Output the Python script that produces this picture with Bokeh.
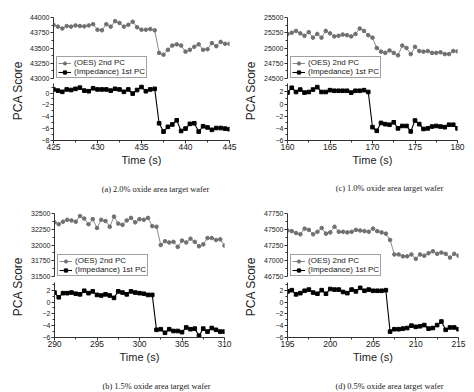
import math
from bokeh.plotting import figure
from bokeh.models import Range1d, FixedTicker, Label, Legend, LegendItem
from bokeh.layouts import column, row
from bokeh.embed import file_html
from bokeh.resources import INLINE

# ---------------- data ----------------
step = 0.5

start_a = 425.0
oes_a = [43880, 43850, 43820, 43860, 43850, 43870, 43860, 43855, 43870, 43890,
         43800, 43790, 43890, 43850, 43940, 43910, 43850, 43880, 43930, 43840,
         43800, 43800, 43810, 43790,
         43420, 43390, 43470, 43540, 43560, 43540, 43440, 43470, 43520, 43560,
         43470, 43480, 43580, 43530, 43600, 43570, 43570]
imp_a = [0.6, 0.4, 0.2, 0.6, 0.5, 0.7, 0.9, 0.4, 0.3, 0.8, 0.6, 0.6, 0.6, 0.4,
         0.7, 0.6, 0.2, 0.6, -0.1, 0.5, 1.0, 0.3, 0.6, 0.7,
         -5.1, -6.5, -5.7, -5.3, -4.6, -6.4, -6.0, -5.2, -5.1, -6.5, -5.6, -5.8,
         -6.2, -5.9, -5.9, -6.0, -6.1]

start_c = 160.0
oes_c = [25230, 25250, 25280, 25240, 25200, 25260, 25170, 25230, 25170, 25280,
         25240, 25190, 25200, 25220, 25210, 25190, 25230, 25320, 25280, 25210,
         25170,
         25000, 24940, 24920, 24960, 24920, 24880, 25040, 25000, 24900, 25020,
         24950, 24940, 24950, 24920, 24920, 24930, 24900, 24900, 24950, 24945]
imp_c = [1.9, 2.7, 2.0, 2.4, 1.9, 2.0, 2.4, 2.8, 2.0, 2.0, 2.3, 2.2, 2.2, 2.2,
         2.2, 1.9, 2.2, 2.2, 2.3, 2.0,
         -3.8, -4.4, -3.1, -3.3, -3.4, -3.0, -4.0, -3.6, -3.6, -4.5, -2.7, -3.3,
         -4.1, -4.0, -3.7, -3.6, -3.7, -3.8, -3.4, -3.4, -4.0]

start_b = 290.0
oes_b = [32360, 32330, 32370, 32400, 32390, 32370, 32460, 32420, 32330, 32410,
         32270, 32400, 32380, 32290, 32450, 32340, 32320, 32390, 32430, 32360,
         32410, 32400, 32430, 32300, 32290,
         32000, 32060, 32040, 32050, 31970, 32070, 32040, 32100, 32050, 31980,
         32010, 32110, 32110, 32080, 32090, 31990]
imp_b = [1.6, 0.8, 1.5, 1.5, 1.6, 1.4, 1.3, 1.9, 1.5, 1.8, 1.2, 1.1, 1.3, 1.1,
         0.7, 1.8, 1.6, 1.3, 1.8, 1.6, 1.5, 1.4, 1.2, 1.2,
         -4.7, -4.6, -5.2, -4.6, -4.9, -4.9, -5.1, -4.3, -4.6, -4.5, -5.7, -4.5,
         -5.0, -4.4, -4.7, -5.0, -5.0]

start_d = 195.0
oes_d = [47480, 47470, 47440, 47420, 47510, 47490, 47420, 47460, 47520, 47430,
         47450, 47540, 47460, 47460, 47450, 47460, 47490, 47480, 47470, 47460,
         47510, 47470, 47450, 47430, 47330,
         47100, 47100, 47070, 47070, 47100, 47030, 47100, 47080, 47120, 47150,
         47110, 47130, 47110, 47050, 47110, 47080]
imp_d = [1.8, 2.0, 1.3, 1.5, 1.9, 2.1, 1.6, 1.4, 2.0, 1.4, 2.2, 2.1, 2.1, 1.7,
         1.5, 2.1, 1.8, 2.4, 1.9, 2.1, 1.9, 1.9, 1.9, 2.0,
         -5.0, -4.6, -4.6, -4.5, -4.4, -4.0, -4.2, -4.1, -3.9, -4.5, -4.4, -3.9,
         -3.3, -4.7, -4.3, -4.3, -4.6]

x_ticks_a = [425, 430, 435, 440, 445]
x_ticks_c = [160, 165, 170, 175, 180]
x_ticks_b = [290, 295, 300, 305, 310]
x_ticks_d = [195, 200, 205, 210, 215]
up_ticks_a = [43000, 43250, 43500, 43750, 44000]
up_ticks_c = [24500, 24750, 25000, 25250, 25500]
up_ticks_b = [31500, 31750, 32000, 32250, 32500]
up_ticks_d = [46750, 47000, 47250, 47500, 47750]
lo_ticks_a = [-8, -6, -4, -2, 0]
lo_ticks_c = [-6, -4, -2, 0, 2]
lo_ticks_b = [-6, -4, -2, 0, 2]
lo_ticks_d = [-6, -4, -2, 0, 2]

labels = ["(OES) 2nd PC", "(Impedance) 1st PC"]
x_title = "Time (s)"
y_title = "PCA Score"
cap_a = "(a) 2.0% oxide area target wafer"
cap_b = "(b) 1.5% oxide area target wafer"
cap_c = "(c) 1.0% oxide area target wafer"
cap_d = "(d) 0.5% oxide area target wafer"

# ---------------- style ----------------
SANS = "Liberation Sans"
SERIF = "Liberation Serif"
AX = "#333333"
TXT = "#222222"
OES_LINE = "#8c8c8c"
OES_MARK = "#707070"
IMP = "#000000"


def mids(t):
    return [(a + b) / 2 for a, b in zip(t[:-1], t[1:])]


def style_axis(ax, size):
    ax.axis_line_color = AX
    ax.major_tick_line_color = AX
    ax.minor_tick_line_color = AX
    ax.major_tick_in = 0
    ax.major_tick_out = 3
    ax.minor_tick_in = 0
    ax.minor_tick_out = 2
    ax.major_label_text_font = SANS
    ax.major_label_text_font_size = size
    ax.major_label_text_color = TXT
    ax.major_label_standoff = 1


def blank(w, h):
    f = figure(width=w, height=h, x_range=Range1d(0, 1), y_range=Range1d(0, 1),
               output_backend="svg", toolbar_location=None, title=None,
               x_axis_location=None, y_axis_location=None,
               min_border_left=0, min_border_right=0,
               min_border_top=0, min_border_bottom=0)
    f.grid.visible = False
    f.outline_line_color = None
    return f


def make_panel(start, oes, imp, xt, upt, lot, lo_top_val, caption,
               W, bl, br, up_h, up_top, up_bot, lo_h, lo_top, lo_bot, strip_h,
               ylab_w, ylab_x, ylab_y, cap_x, cap_y):
    t = [start + step * i for i in range(len(oes))]
    xr = (xt[0], xt[-1])

    up = figure(width=W, height=up_h, x_range=Range1d(*xr),
                y_range=Range1d(upt[0], upt[-1]), output_backend="svg",
                toolbar_location=None, title=None,
                min_border_left=bl, min_border_right=br,
                min_border_top=up_top, min_border_bottom=up_bot)
    up.xaxis.visible = False
    up.grid.visible = False
    up.outline_line_color = None
    up.yaxis.ticker = FixedTicker(ticks=upt, minor_ticks=mids(upt))
    style_axis(up.yaxis[0], "7px")

    l1 = up.line(t, oes, line_color=OES_LINE, line_width=1)
    s1 = up.scatter(t, oes, marker="circle", size=3.6, fill_color=OES_MARK,
                    line_color=OES_MARK)
    l2 = up.line(t, imp, line_color=IMP, line_width=1.1)
    s2 = up.scatter(t, imp, marker="square", size=3.6, fill_color=IMP,
                    line_color=IMP)
    leg = Legend(items=[LegendItem(label=labels[0], renderers=[l1, s1]),
                        LegendItem(label=labels[1], renderers=[l2, s2])],
                 location=(3, 0))
    leg.margin = 0
    leg.padding = 1
    leg.spacing = 0
    leg.glyph_width = 13
    leg.glyph_height = 8
    leg.label_height = 8
    leg.label_standoff = 3
    leg.label_text_font = SANS
    leg.label_text_font_size = "8px"
    leg.label_text_color = TXT
    leg.border_line_color = "#444444"
    leg.border_line_width = 1
    leg.background_fill_alpha = 1
    up.add_layout(leg)

    lo = figure(width=W, height=lo_h, x_range=up.x_range,
                y_range=Range1d(lot[0], lo_top_val), output_backend="svg",
                toolbar_location=None, title=None,
                min_border_left=bl, min_border_right=br,
                min_border_top=lo_top, min_border_bottom=lo_bot)
    lo.grid.visible = False
    lo.outline_line_color = None
    lo.yaxis.ticker = FixedTicker(ticks=lot, minor_ticks=mids(lot) + [lot[-1] + 1])
    lo.xaxis.ticker = FixedTicker(ticks=xt, minor_ticks=mids(xt))
    style_axis(lo.yaxis[0], "7px")
    style_axis(lo.xaxis[0], "8.5px")
    lo.xaxis.major_label_standoff = 0
    lo.xaxis.axis_label = x_title
    lo.xaxis.axis_label_standoff = 1
    lo.xaxis.axis_label_text_font = SANS
    lo.xaxis.axis_label_text_font_style = "normal"
    lo.xaxis.axis_label_text_font_size = "11px"
    lo.xaxis.axis_label_text_color = TXT
    lo.line(t, imp, line_color=IMP, line_width=1.1)
    lo.scatter(t, imp, marker="square", size=3.6, fill_color=IMP, line_color=IMP)

    strip = blank(W, strip_h)
    strip.add_layout(Label(x=cap_x, y=cap_y, x_units="screen", y_units="screen",
                           text=caption, text_align="center",
                           text_baseline="middle", text_font=SERIF,
                           text_font_size="8.4px", text_color=TXT))

    total_h = up_h + lo_h + strip_h
    ylab = blank(ylab_w, total_h)
    ylab.add_layout(Label(x=ylab_x, y=ylab_y, x_units="screen", y_units="screen",
                          text=y_title, angle=math.pi / 2, text_align="center",
                          text_baseline="middle", text_font=SANS,
                          text_font_size="12px", text_color=TXT))
    return row(ylab, column(up, lo, strip))


# top row: upper 0->83, lower 83->168, strip 168->204
pa = make_panel(start_a, oes_a, imp_a, x_ticks_a, up_ticks_a, lo_ticks_a, 1.6,
                cap_a, 218, 29, 13, 83, 17, 5, 85, 0, 26, 36,
                24, 17, 114, 102, 15)
pc = make_panel(start_c, oes_c, imp_c, x_ticks_c, up_ticks_c, lo_ticks_c, 3.4,
                cap_c, 216, 29, 17, 83, 17, 5, 85, 0, 26, 36,
                16, 8, 114, 102, 16)
# bottom row: upper 204->281, lower 281->365, strip 365->392
pb = make_panel(start_b, oes_b, imp_b, x_ticks_b, up_ticks_b, lo_ticks_b, 3.3,
                cap_b, 218, 30, 18, 77, 9, 5, 84, 1, 26, 27,
                24, 17, 106, 102, 6)
pd = make_panel(start_d, oes_d, imp_d, x_ticks_d, up_ticks_d, lo_ticks_d, 3.3,
                cap_d, 216, 29, 16, 77, 9, 5, 84, 1, 26, 27,
                16, 8, 106, 102, 6)

p = column(row(pa, pc), row(pb, pd))
open("out.html", "w").write(file_html(p, INLINE))
